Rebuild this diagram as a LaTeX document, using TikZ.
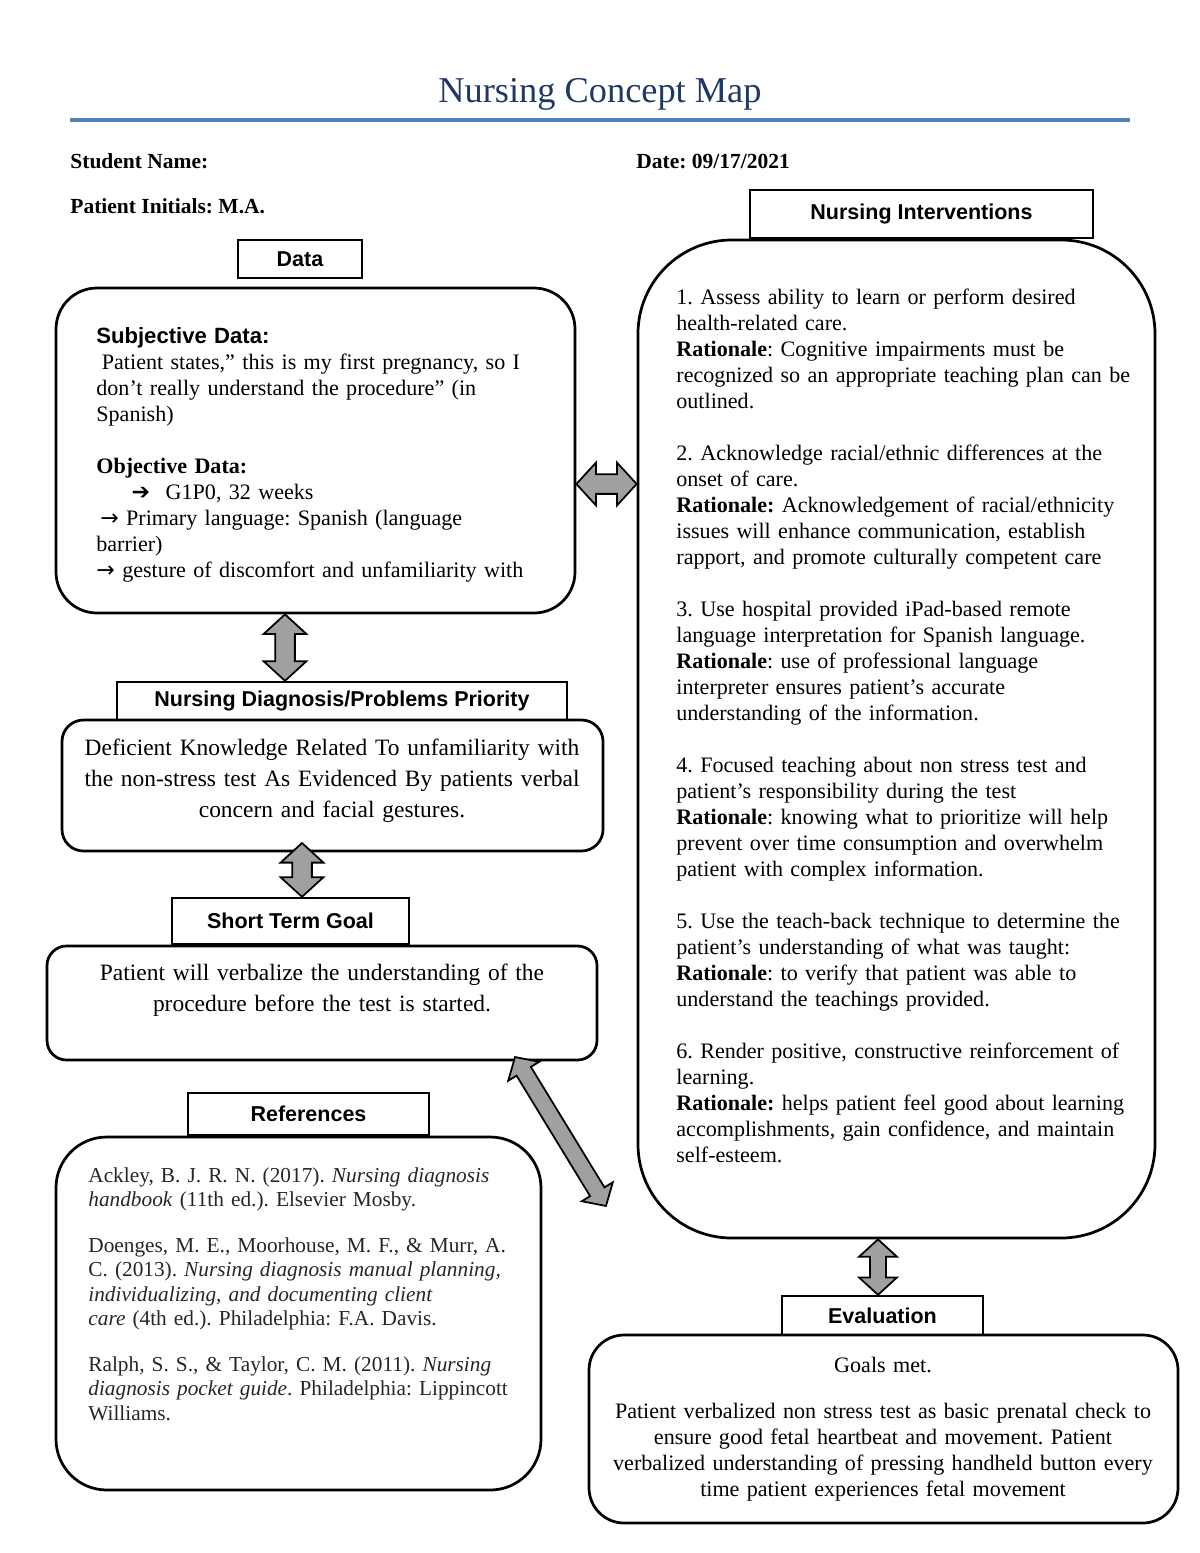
\documentclass[tikz,border=0pt]{standalone}
\usepackage{fontspec}
\setmainfont{Liberation Serif}
\setsansfont{Liberation Sans}
\newfontfamily\symfont{DejaVu Sans}
\usetikzlibrary{calc,fit,shapes.arrows}
\definecolor{titleblue}{HTML}{1F3864}
\definecolor{rulecol}{HTML}{4F81BD}
\definecolor{arrowgray}{HTML}{A0A0A0}
\frenchspacing
\tikzset{
  labelbox/.style={draw, line width=1.2pt, inner sep=0pt,
    label={[inner sep=0pt, font=\sffamily\bfseries\fontsize{11}{13}\selectfont]center:#1}},
  bigbox/.style={draw, line width=1.4pt, inner sep=0pt},
  bodytext/.style={inner sep=0pt, align=left, font=\fontsize{11.3}{13.3}\selectfont},
  headtext/.style={inner sep=0pt, anchor=base west, font=\bfseries\fontsize{11}{13}\selectfont},
  dblarrow/.style={double arrow, draw, fill=arrowgray, line width=0.9pt, inner xsep=0pt,
    inner ysep=4.6pt, double arrow head extend=5.9pt, double arrow tip angle=95}
}
% fat grey two-headed arrow from #2 to #3
\newcommand{\fatarrow}[3][]{%
  \path let \p1=#2, \p2=#3, \n1={veclen(\x2-\x1,\y2-\y1)}, \n2={atan2(\y2-\y1,\x2-\x1)} in
    node[dblarrow, minimum height=\n1, rotate=\n2, #1] at ($#2!.5!#3$) {};}
\newcommand{\blankline}{\\[\baselineskip]}
\begin{document}
\begin{tikzpicture}[x=0.0070833in, y=-0.0070833in]
\useasboundingbox (0,0) rectangle (1200,1553);
% heading
\node[anchor=base, inner sep=0pt, text=titleblue, font=\fontsize{18.6}{22}\selectfont] (title) at (600,102) {Nursing Concept Map};
\draw[rulecol, line width=1.6pt] (70,120) -- (1130,120);
\node[headtext] (student) at (70,168) {Student Name:};
\node[headtext] (date) at (636,168) {Date: 09/17/2021};
\node[headtext] (initials) at (70,213) {Patient Initials: M.A.};

% data
\node[bigbox, rounded corners=21pt, fit={(56,288) (575,613)}] (data) {};
\node[labelbox=Data, fit={(238,240) (362,278)}] (datalab) {};
\node[bodytext, anchor=north west, text width=240pt] (datatext) at (96,325) {\strut\textsf{\bfseries Subjective Data:}\\
\hspace*{0.25em}Patient states,” this is my first pregnancy, so I\\
don’t really understand the procedure” (in\\
Spanish)\blankline
\textbf{Objective Data:}\\
\hspace*{18pt}{\symfont ➔}\hspace{8pt}G1P0, 32 weeks\\
\hspace*{2pt}{\symfont →} Primary language: Spanish (language\\
barrier)\\
{\symfont →} gesture of discomfort and unfamiliarity with};

% diagnosis
\node[bigbox, rounded corners=11pt, fit={(62,720) (603,851)}] (ndbox) {};
\node[labelbox=Nursing Diagnosis/Problems Priority, fit={(117,682) (567,720)}] (ndlab) {};
\node[bodytext, align=center, anchor=north, text width=275pt, font=\fontsize{12}{15.9}\selectfont] (ndtext) at (332,733) {\strut Deficient Knowledge Related To unfamiliarity with\\
the non-stress test As Evidenced By patients verbal\\
concern and facial gestures.};

% short term goal
\node[bigbox, rounded corners=10pt, fit={(47,946) (597,1060)}] (stg) {};
\node[labelbox=Short Term Goal, fit={(172,898) (409,944)}] (stglab) {};
\node[bodytext, align=center, anchor=north, text width=270pt, font=\fontsize{12}{15.9}\selectfont] (stgtext) at (322,958) {\strut Patient will verbalize the understanding of the\\
procedure before the test is started.};

% references
\node[bigbox, rounded corners=26pt, fit={(56,1137) (541,1490)}] (refs) {};
\node[labelbox=References, fit={(188,1093) (429,1135)}] (refslab) {};
\node[bodytext, anchor=north west, text width=228pt, text=black!85, font=\fontsize{10.9}{12.45}\selectfont] (refstext) at (88,1165) {\strut Ackley, B. J. R. N. (2017). \textit{Nursing diagnosis}\\
\textit{handbook} (11th ed.). Elsevier Mosby.\\[11pt]
Doenges, M. E., Moorhouse, M. F., \& Murr, A.\\
C. (2013). \textit{Nursing diagnosis manual planning,}\\
\textit{individualizing, and documenting client}\\
\textit{care} (4th ed.). Philadelphia: F.A. Davis.\\[11pt]
Ralph, S. S., \& Taylor, C. M. (2011). \textit{Nursing}\\
\textit{diagnosis pocket guide}. Philadelphia: Lippincott\\
Williams.};

% interventions
\node[bigbox, rounded corners=48pt, fit={(638,240) (1155,1238)}] (nibox) {};
\node[labelbox=Nursing Interventions, fit={(750,190) (1093,238)}] (nilab) {};
\node[bodytext, anchor=north west, text width=242pt] (nitext) at (676,286) {\strut 1. Assess ability to learn or perform desired\\
health-related care.\\
\textbf{Rationale}: Cognitive impairments must be\\
recognized so an appropriate teaching plan can be\\
outlined.\blankline
2. Acknowledge racial/ethnic differences at the\\
onset of care.\\
\textbf{Rationale:} Acknowledgement of racial/ethnicity\\
issues will enhance communication, establish\\
rapport, and promote culturally competent care\blankline
3. Use hospital provided iPad-based remote\\
language interpretation for Spanish language.\\
\textbf{Rationale}: use of professional language\\
interpreter ensures patient’s accurate\\
understanding of the information.\blankline
4. Focused teaching about non stress test and\\
patient’s responsibility during the test\\
\textbf{Rationale}: knowing what to prioritize will help\\
prevent over time consumption and overwhelm\\
patient with complex information.\blankline
5. Use the teach-back technique to determine the\\
patient’s understanding of what was taught:\\
\textbf{Rationale}: to verify that patient was able to\\
understand the teachings provided.\blankline
6. Render positive, constructive reinforcement of\\
learning.\\
\textbf{Rationale:} helps patient feel good about learning\\
accomplishments, gain confidence, and maintain\\
self-esteem.};

% evaluation
\node[bigbox, rounded corners=18pt, fit={(589,1335) (1178,1523)}] (eval) {};
\node[labelbox=Evaluation, fit={(782,1296) (983,1335)}] (evallab) {};
\node[bodytext, align=center, anchor=north, text width=290pt] (evaltext) at (883,1354) {\strut Goals met.\\[10pt]
Patient verbalized non stress test as basic prenatal check to\\
ensure good fetal heartbeat and movement. Patient\\
verbalized understanding of pressing handheld button every\\
time patient experiences fetal movement};

% arrows
\coordinate (c1) at (285,0);
\coordinate (c2) at (302,843);
\coordinate (c3) at (0,484);
\coordinate (c5) at (878,0);
\coordinate (d1) at (515,1057);
\coordinate (d2) at (606,1206);
\fatarrow{(c1 |- data.south)}{(c1 |- ndlab.north)}
\fatarrow{(c2)}{(c2 |- stglab.north)}
\fatarrow{(c3 -| data.east)}{(c3 -| nibox.west)}
\fatarrow[inner ysep=3.85pt, double arrow head extend=5pt]{(d1)}{(d2)}
\fatarrow[inner ysep=3.6pt, double arrow head extend=5.6pt]{(c5 |- nibox.south)}{(c5 |- evallab.north)}
\end{tikzpicture}
\end{document}
